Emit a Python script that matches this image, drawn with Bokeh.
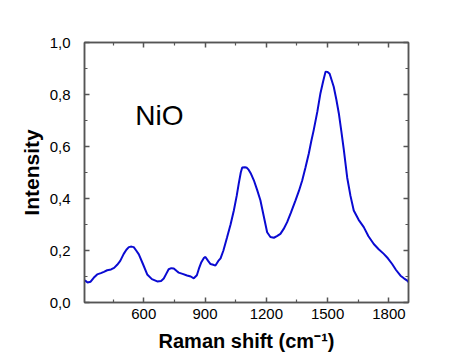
from bokeh.plotting import figure
from bokeh.models import LinearAxis, FixedTicker, Range1d
from bokeh.core.properties import value
from bokeh.embed import file_html
from bokeh.resources import INLINE

raman_shift = [312, 325, 340, 355, 372, 390, 405, 421, 440, 455, 470, 485, 502, 515, 527, 540,
               551, 563, 576, 595, 617, 640, 666, 685, 698, 710, 722, 735, 747, 760, 771, 790,
               812, 830, 845, 860, 870, 882, 895, 902, 915, 927, 940, 951, 965, 976, 990, 1008,
               1025, 1041, 1055, 1065, 1075, 1082, 1095, 1105, 1114, 1125, 1139, 1155, 1171, 1188,
               1204, 1220, 1237, 1252, 1269, 1285, 1302, 1320, 1343, 1360, 1376, 1392, 1408, 1420,
               1432, 1450, 1465, 1478, 1490, 1500, 1510, 1520, 1530, 1543, 1555, 1567, 1579, 1596,
               1612, 1628, 1652, 1677, 1700, 1726, 1750, 1775, 1795, 1816, 1835, 1857, 1875, 1890, 1896]
intensity = [0.085, 0.077, 0.080, 0.095, 0.108, 0.113, 0.118, 0.124, 0.127, 0.133, 0.145, 0.160,
             0.187, 0.203, 0.213, 0.215, 0.213, 0.200, 0.185, 0.150, 0.108, 0.090, 0.081, 0.083,
             0.092, 0.110, 0.128, 0.132, 0.131, 0.122, 0.115, 0.110, 0.104, 0.100, 0.093, 0.105,
             0.130, 0.155, 0.172, 0.175, 0.160, 0.148, 0.145, 0.142, 0.160, 0.170, 0.200, 0.251,
             0.300, 0.354, 0.410, 0.457, 0.500, 0.519, 0.520, 0.518, 0.510, 0.495, 0.470, 0.433,
             0.393, 0.330, 0.270, 0.252, 0.249, 0.255, 0.264, 0.283, 0.309, 0.345, 0.393, 0.430,
             0.470, 0.520, 0.573, 0.620, 0.663, 0.735, 0.805, 0.850, 0.888, 0.887, 0.880, 0.855,
             0.830, 0.780, 0.727, 0.660, 0.590, 0.480, 0.410, 0.354, 0.318, 0.290, 0.255, 0.225,
             0.205, 0.187, 0.170, 0.148, 0.125, 0.103, 0.092, 0.084, 0.078]

x_ticks = [600, 900, 1200, 1500, 1800]
x_minor = [450, 750, 1050, 1350, 1650]
y_ticks = [0.0, 0.2, 0.4, 0.6, 0.8, 1.0]
y_labels = ["0,0", "0,2", "0,4", "0,6", "0,8", "1,0"]
y_minor = [0.1, 0.3, 0.5, 0.7, 0.9]

FONT = "Liberation Sans"
AX_COLOR = "#555555"

p = figure(width=474, height=362, output_backend="svg", toolbar_location=None,
           x_range=Range1d(310, 1896), y_range=Range1d(0, 1.0),
           min_border_left=84, min_border_right=66, min_border_top=42, min_border_bottom=60)
p.xgrid.visible = False
p.ygrid.visible = False
p.outline_line_color = AX_COLOR
p.outline_line_width = 1.5
p.background_fill_color = "white"
p.border_fill_color = "white"

p.line(raman_shift, intensity, line_color="#0a0ad2", line_width=2)
p.text(x=[559], y=[0.72], text=["NiO"], text_font=value(FONT), text_font_size="28px",
       text_baseline="alphabetic", text_align="left", text_color="black")

def style(ax, ticks, minor, labels=True):
    ax.ticker = FixedTicker(ticks=ticks, minor_ticks=minor)
    ax.axis_line_color = AX_COLOR
    ax.axis_line_width = 1.5
    ax.major_tick_line_color = AX_COLOR
    ax.minor_tick_line_color = AX_COLOR
    ax.major_tick_line_width = 1.5
    ax.minor_tick_line_width = 1.2
    ax.major_tick_in = 5
    ax.major_tick_out = 0
    ax.minor_tick_in = 3
    ax.minor_tick_out = 0
    ax.major_label_text_font = FONT
    ax.major_label_text_font_size = "15px"
    ax.major_label_text_color = "black"
    if not labels:
        ax.major_label_overrides = {t: "" for t in ticks}
        ax.major_label_standoff = 0

xa = p.xaxis[0]
style(xa, x_ticks, x_minor)
xa.major_label_standoff = 6
xa.axis_label = "Raman shift (cm\u207b\u00b9)"
xa.axis_label_text_font = FONT
xa.axis_label_text_font_size = "20px"
xa.axis_label_text_font_style = "bold"
xa.axis_label_text_color = "black"
xa.axis_label_standoff = 8

ya = p.yaxis[0]
style(ya, y_ticks, y_minor)
ya.major_label_overrides = {t: l for t, l in zip(y_ticks, y_labels)}
ya.major_label_standoff = 14
ya.axis_label = "Intensity"
ya.axis_label_text_font = FONT
ya.axis_label_text_font_size = "21px"
ya.axis_label_text_font_style = "bold"
ya.axis_label_text_color = "black"
ya.axis_label_standoff = 4

top = LinearAxis()
style(top, x_ticks, x_minor, labels=False)
p.add_layout(top, "above")
right = LinearAxis()
style(right, y_ticks, y_minor, labels=False)
p.add_layout(right, "right")

open("out.html", "w").write(file_html(p, INLINE))
